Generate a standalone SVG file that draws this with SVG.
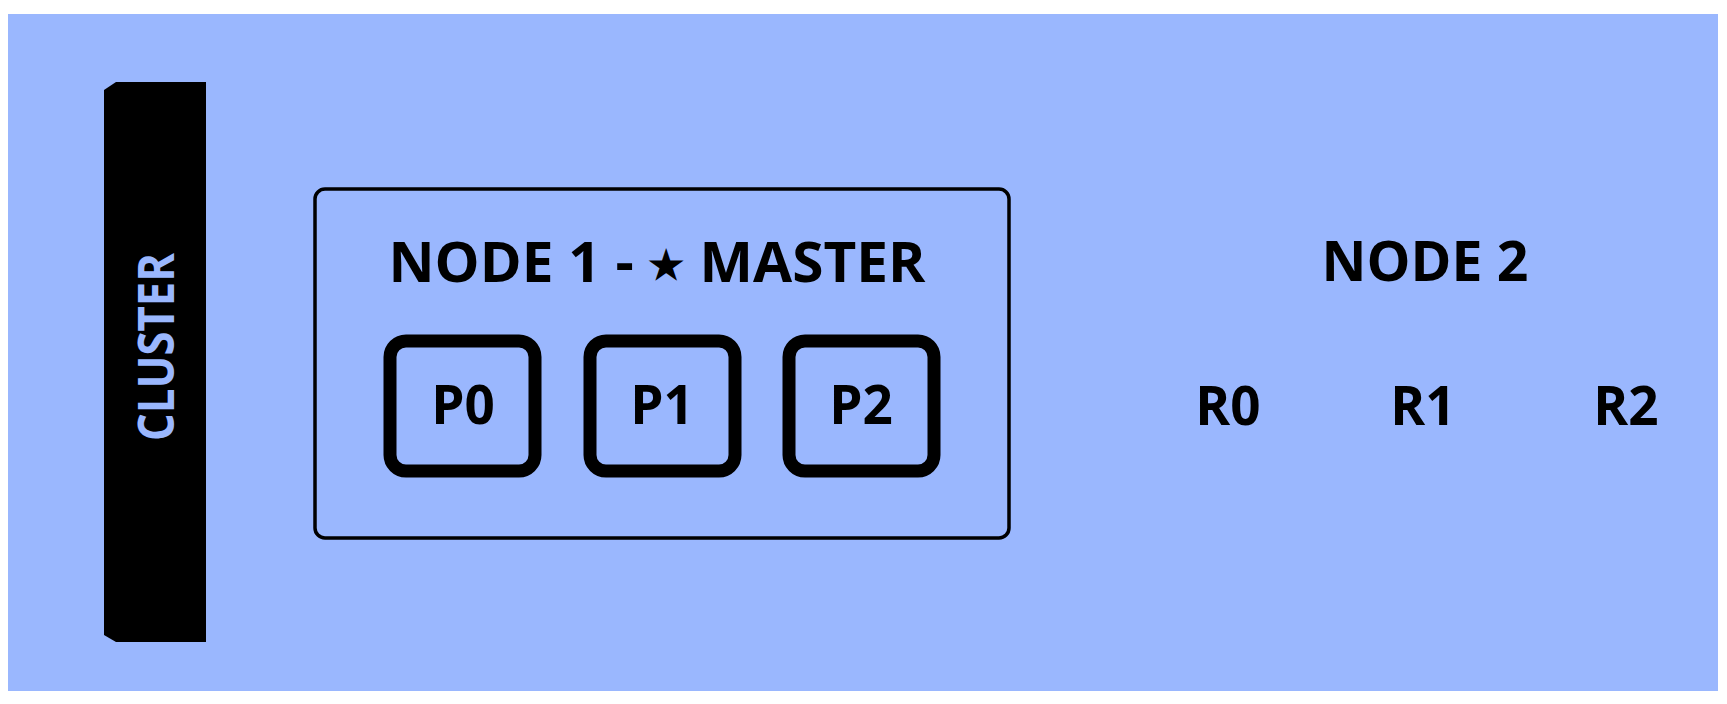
<svg xmlns="http://www.w3.org/2000/svg" width="1727" height="704" viewBox="0 0 1727 704">
<style>
.lbl{font-family:"Open Sans","Liberation Sans",sans-serif;font-weight:bold;fill:#000;text-anchor:middle}
.pbox{fill:none;stroke:#000;stroke-width:13}
</style>
<rect x="0" y="0" width="1727" height="704" fill="#fff"/>
<rect x="8" y="14" width="1710" height="677" fill="#9AB7FE"/>
<g id="cluster">
<path d="M104 90 L116 82 L206 82 L206 642 L116 642 L104 635 Z" fill="#000"/>
<text class="lbl" x="0" y="0" transform="translate(174 347) rotate(-90)" font-size="51" style="fill:#9AB7FE" textLength="188" lengthAdjust="spacingAndGlyphs">CLUSTER</text>
</g>
<g id="node1">
<rect x="315" y="189" width="694" height="349" rx="10" fill="none" stroke="#000" stroke-width="3.5"/>
<text class="lbl" x="657" y="282" font-size="56" textLength="537" lengthAdjust="spacingAndGlyphs">NODE 1 - <tspan font-size="40" dy="-3">★</tspan><tspan dy="3"> MASTER</tspan></text>
</g>
<g id="p0"><rect class="pbox" x="390" y="341" width="145" height="130" rx="16"/><text class="lbl" x="463" y="424" font-size="53">P0</text></g>
<g id="p1"><rect class="pbox" x="590" y="341" width="145" height="130" rx="16"/><text class="lbl" x="662" y="424" font-size="53">P1</text></g>
<g id="p2"><rect class="pbox" x="789" y="341" width="145" height="130" rx="16"/><text class="lbl" x="861" y="424" font-size="53">P2</text></g>
<g id="node2"><text class="lbl" x="1425" y="281" font-size="55" textLength="207" lengthAdjust="spacingAndGlyphs">NODE 2</text></g>
<g id="r0"><text class="lbl" x="1228" y="425" font-size="53">R0</text></g>
<g id="r1"><text class="lbl" x="1423" y="425" font-size="53">R1</text></g>
<g id="r2"><text class="lbl" x="1626" y="425" font-size="53">R2</text></g>
<g id="connectors"></g>
</svg>
